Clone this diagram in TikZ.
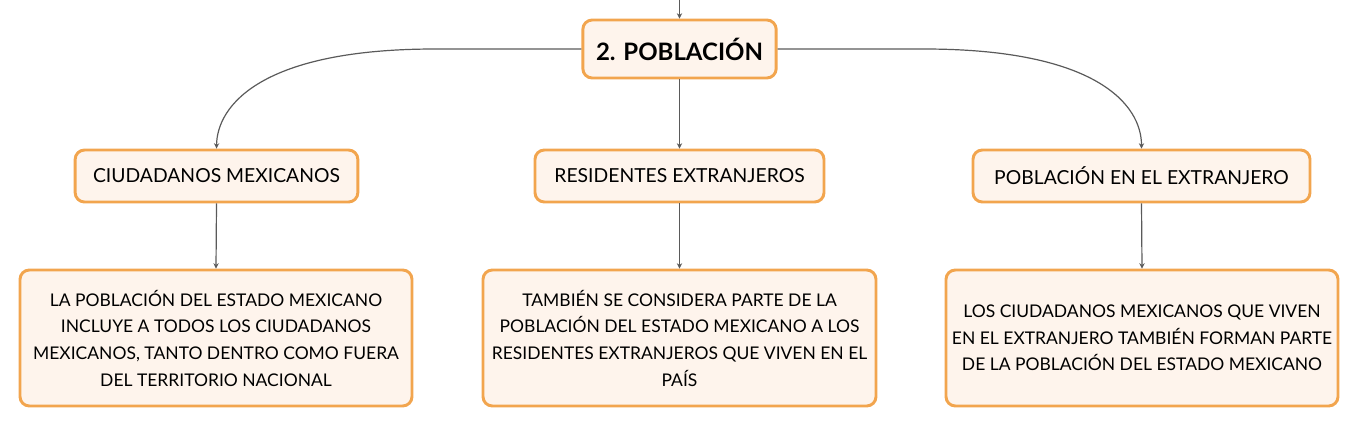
\documentclass[tikz,border=0pt]{standalone}
\usepackage{fontspec}
\setmainfont{Lato}
\usetikzlibrary{arrows.meta}
\definecolor{boxfill}{HTML}{FEF4EC}
\definecolor{boxdraw}{HTML}{F2A54E}
\definecolor{linec}{HTML}{5A5A5A}
\begin{document}
\begin{tikzpicture}[x=0.75pt,y=-0.75pt,
  box/.style={draw=boxdraw,fill=boxfill,line width=2.2pt,rounded corners=7pt,inner sep=0pt,align=center},
  lvone/.style={box,minimum height=39pt,font=\fontsize{14.5}{17}\selectfont},
  lvtwo/.style={box,minimum height=102pt,font=\fontsize{13.1}{20}\selectfont},
  conn/.style={draw=linec,line width=0.9pt,-{Stealth[length=4pt,width=4pt]}}]
\useasboundingbox (0,0) rectangle (1359,426);
\node[box,minimum width=145pt,minimum height=43.5pt,font=\fontsize{18}{21}\selectfont\bfseries] (t) at (679.5,49) {2. POBLACIÓN};
\node[lvone,minimum width=212pt] (c1) at (216.5,176) {CIUDADANOS MEXICANOS};
\node[lvone,minimum width=216.75pt] (c2) at (679.5,176) {RESIDENTES EXTRANJEROS};
\node[lvone,minimum width=252.75pt] (c3) at (1141.5,176) {POBLACIÓN EN EL EXTRANJERO};
\node[lvtwo,minimum width=294pt] (d1) at (216,338) {LA POBLACIÓN DEL ESTADO MEXICANO\\INCLUYE A TODOS LOS CIUDADANOS\\MEXICANOS, TANTO DENTRO COMO FUERA\\DEL TERRITORIO NACIONAL};
\node[lvtwo,minimum width=294.75pt] (d2) at (679.5,338) {TAMBIÉN SE CONSIDERA PARTE DE LA\\POBLACIÓN DEL ESTADO MEXICANO A LOS\\RESIDENTES EXTRANJEROS QUE VIVEN EN EL\\PAÍS};
\node[lvtwo,minimum width=294pt] (d3) at (1142,338) {LOS CIUDADANOS MEXICANOS QUE VIVEN\\EN EL EXTRANJERO TAMBIÉN FORMAN PARTE\\DE LA POBLACIÓN DEL ESTADO MEXICANO};
\coordinate (top) at (679.5,0);
\coordinate (lbend) at (435,49);
\coordinate (rbend) at (924,49);
\draw[conn] (top) -- (t.north);
\draw[conn] (t.west) -- (lbend) .. controls (262,49) and (217,105) .. (c1.north);
\draw[conn] (t.east) -- (rbend) .. controls (1097,49) and (1141.5,105) .. (c3.north);
\draw[conn] (t.south) -- (c2.north);
\draw[conn] (c1.south) -- (d1.north);
\draw[conn] (c2.south) -- (d2.north);
\draw[conn] (c3.south) -- (d3.north);
\end{tikzpicture}
\end{document}
